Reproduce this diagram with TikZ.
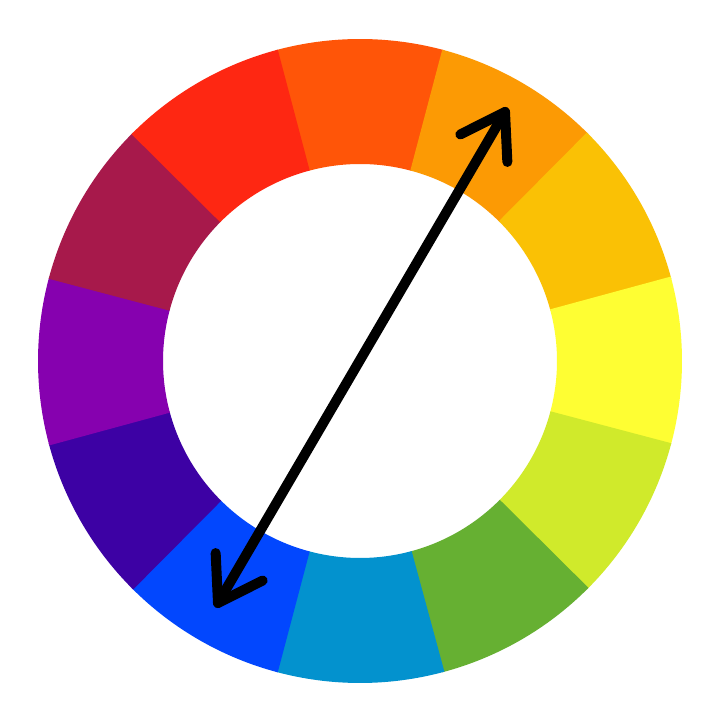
\documentclass[tikz,border=0pt]{standalone}
\usetikzlibrary{calc}
\definecolor{c090}{HTML}{FF5508}
\definecolor{c060}{HTML}{FC9A04}
\definecolor{c030}{HTML}{FAC105}
\definecolor{c000}{HTML}{FEFE33}
\definecolor{cm30}{HTML}{D0EA2B}
\definecolor{cm60}{HTML}{66B032}
\definecolor{cm90}{HTML}{0392CE}
\definecolor{cm120}{HTML}{0247FE}
\definecolor{cm150}{HTML}{3D01A4}
\definecolor{c180}{HTML}{8601AF}
\definecolor{c150}{HTML}{A7194B}
\definecolor{c120}{HTML}{FE2712}
\tikzset{
  arrowline/.style={line width=10pt, line cap=round, line join=round, draw=black}
}
\begin{document}
\begin{tikzpicture}[x=1pt,y=1pt]
\useasboundingbox (0,0) rectangle (720,720);
\fill[white] (0,0) rectangle (720,720);
\coordinate (ctr) at (360,359);
\def\Ro{322}
\def\Ri{197}
\foreach \a/\c in {90/c090,60/c060,30/c030,0/c000,-30/cm30,-60/cm60,-90/cm90,-120/cm120,-150/cm150,180/c180,150/c150,120/c120}{
  \fill[\c] ($(ctr)+(\a-15.2:\Ri)$) -- ($(ctr)+(\a-15.2:\Ro)$) arc[start angle=\a-15.2, end angle=\a+15.2, radius=\Ro] -- ($(ctr)+(\a+15.2:\Ri)$) arc[start angle=\a+15.2, end angle=\a-15.2, radius=\Ri] -- cycle;
}
\coordinate (tipA) at (505,608);
\coordinate (tipB) at (218,117);
\draw[arrowline] (tipA) -- (tipB);
\draw[arrowline] ($(tipA)!50pt!33:(tipB)$) -- (tipA) -- ($(tipA)!50pt!-33:(tipB)$);
\draw[arrowline] ($(tipB)!50pt!33:(tipA)$) -- (tipB) -- ($(tipB)!50pt!-33:(tipA)$);
\end{tikzpicture}
\end{document}
